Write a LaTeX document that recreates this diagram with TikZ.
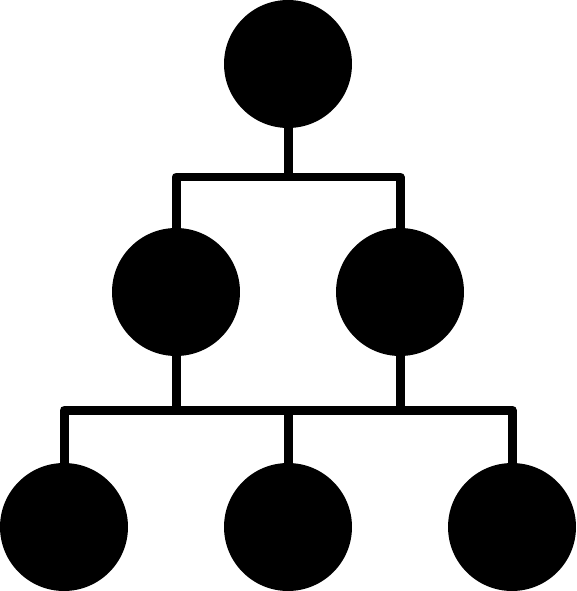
\documentclass[tikz,border=0pt]{standalone}
\usepackage{tikz}
\usetikzlibrary{shapes}

\begin{document}
\begin{tikzpicture}[x=0.02cm, y=-0.02cm]
		\tikzstyle{every node} = [circle, fill=black, minimum size=2.56cm, inner sep=0pt]
		\tikzstyle{link} = [line width=0.18cm, line join=round]
		\useasboundingbox (0, 0) rectangle (576, 591);
		\node (top) at (288, 64) {};
		\node (midl) at (176, 292) {};
		\node (midr) at (400, 292) {};
		\node (botl) at (64, 527) {};
		\node (botc) at (288, 527) {};
		\node (botr) at (512, 527) {};
		\coordinate (j0) at (288, 177);
		\coordinate (jl) at (176, 410);
		\coordinate (jc) at (288, 410);
		\coordinate (jr) at (400, 410);
		\draw [link] (top) -- (j0);
		\draw [link] (midl) |- (j0) -| (midr);
		\foreach \from/\to in {midl/jl, midr/jr, botc/jc}
		\draw [link] (\from) -- (\to);
		\draw [link] (botl) |- (jl) -| (botr);
	\end{tikzpicture}
\end{document}
